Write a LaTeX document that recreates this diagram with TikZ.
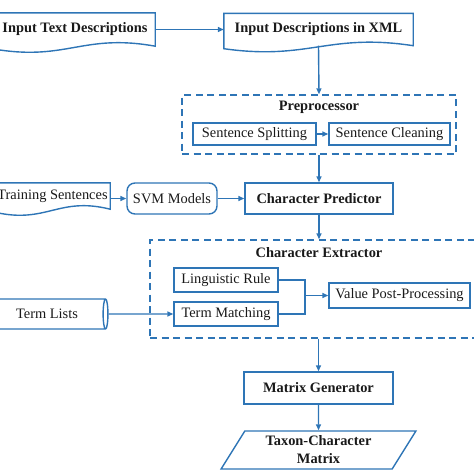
\documentclass[tikz,border=0pt]{standalone}
\usepackage{fontspec}
\setmainfont{Liberation Serif}
\usetikzlibrary{arrows.meta,positioning,shapes.geometric,calc}

\definecolor{flowblue}{RGB}{46,117,182}
\definecolor{inkgray}{RGB}{25,25,25}

\tikzset{
  flow/.style={draw=flowblue,line width=1.4pt},
  proc/.style={flow,rectangle,inner sep=2pt,text=inkgray},
  docnode/.style={rectangle,inner sep=2pt,text=inkgray},
  group/.style={draw=flowblue,line width=1.4pt,dash pattern=on 7pt off 4.5pt},
  conn/.style={draw=flowblue,line width=1.4pt,-{Triangle[length=6pt,width=5pt]}},
  title/.style={font=\bfseries,text=inkgray},
}

% wavy document outline round a node
\newcommand{\docoutline}[1]{%
  \draw[flow] (#1.north west) -- (#1.north east) -- (#1.south east)
    .. controls ($(#1.south east)!0.45!(#1.south west)+(0,-13)$)
    and ($(#1.south east)!0.55!(#1.south west)+(0,15)$)
    .. ($(#1.south west)+(0,3)$) -- cycle;}

\begin{document}
\fontsize{14.4}{18}\selectfont
\begin{tikzpicture}[x=1pt,y=-1pt]
    \useasboundingbox (0,0) rectangle (474,474);

    \node[docnode,minimum width=160pt,minimum height=33pt,font=\bfseries] (itd) at (75,29.5) {Input Text Descriptions};
    \docoutline{itd}
    \node[docnode,minimum width=189pt,minimum height=32pt,font=\bfseries] (ixml) at (318.5,29.5) {Input Descriptions in XML};
    \docoutline{ixml}

    \node[group,minimum width=274pt,minimum height=59pt] (pre) at (319,124.5) {};
    \node[title] (pretitle) at (319,107) {Preprocessor};
    \node[proc,minimum width=123pt,minimum height=22pt] (split) at (254.5,134) {Sentence Splitting};
    \node[proc,minimum width=121pt,minimum height=22pt] (clean) at (389.5,134) {Sentence Cleaning};

    \node[docnode,minimum width=115pt,minimum height=26pt] (train) at (52.5,196) {Training Sentences};
    \docoutline{train}
    \node[proc,rounded corners=8pt,minimum width=90pt,minimum height=31pt] (svm) at (172,198.5) {SVM Models};
    \node[proc,minimum width=148pt,minimum height=31pt,font=\bfseries] (pred) at (319,198.5) {Character Predictor};

    \node[group,minimum width=332pt,minimum height=98pt] (ext) at (316,289) {};
    \node[title] (exttitle) at (319,253) {Character Extractor};
    \node[proc,minimum width=104pt,minimum height=24pt] (rule) at (226,280) {Linguistic Rule};
    \node[proc,minimum width=104pt,minimum height=24pt] (match) at (226,314) {Term Matching};
    \node[proc,minimum width=141pt,minimum height=25pt] (post) at (399.5,295.5) {Value Post-Processing};
    \coordinate (join) at (305,295.5);

    \node[cylinder,flow,aspect=0.25,minimum width=30pt,minimum height=117pt,text=inkgray] (terms) at (47,314) {Term Lists};

    \node[proc,minimum width=149pt,minimum height=32pt,font=\bfseries] (gen) at (318.5,388) {Matrix Generator};
    \node[trapezium,trapezium left angle=60,trapezium right angle=120,trapezium stretches=true,flow,
          minimum width=195pt,minimum height=38pt,align=center,font=\bfseries,text=inkgray,inner sep=1pt] (matrix) at (318.5,450) {Taxon-Character\\Matrix};

    % connectors
    \draw[conn] (itd.east) -- (ixml.west);
    \draw[conn] (ixml.south) -- (pre.north);
    \draw[conn] (split.east) -- (clean.west);
    \draw[conn] (pre.south) -- (pred.north);
    \draw[conn] (train.east |- svm.west) -- (svm.west);
    \draw[conn] (svm.east) -- (pred.west);
    \draw[conn] (pred.south) -- (pred.south |- ext.north);
    \draw[flow] (rule.east) -| (join);
    \draw[flow] (match.east) -| (join);
    \draw[conn] (join) -- (post.west);
    \draw[conn] (terms.east) -- (match.west);
    \draw[conn] (gen.north |- ext.south) -- (gen.north);
    \draw[conn] (gen.south) -- (matrix.north);
\end{tikzpicture}
\end{document}
